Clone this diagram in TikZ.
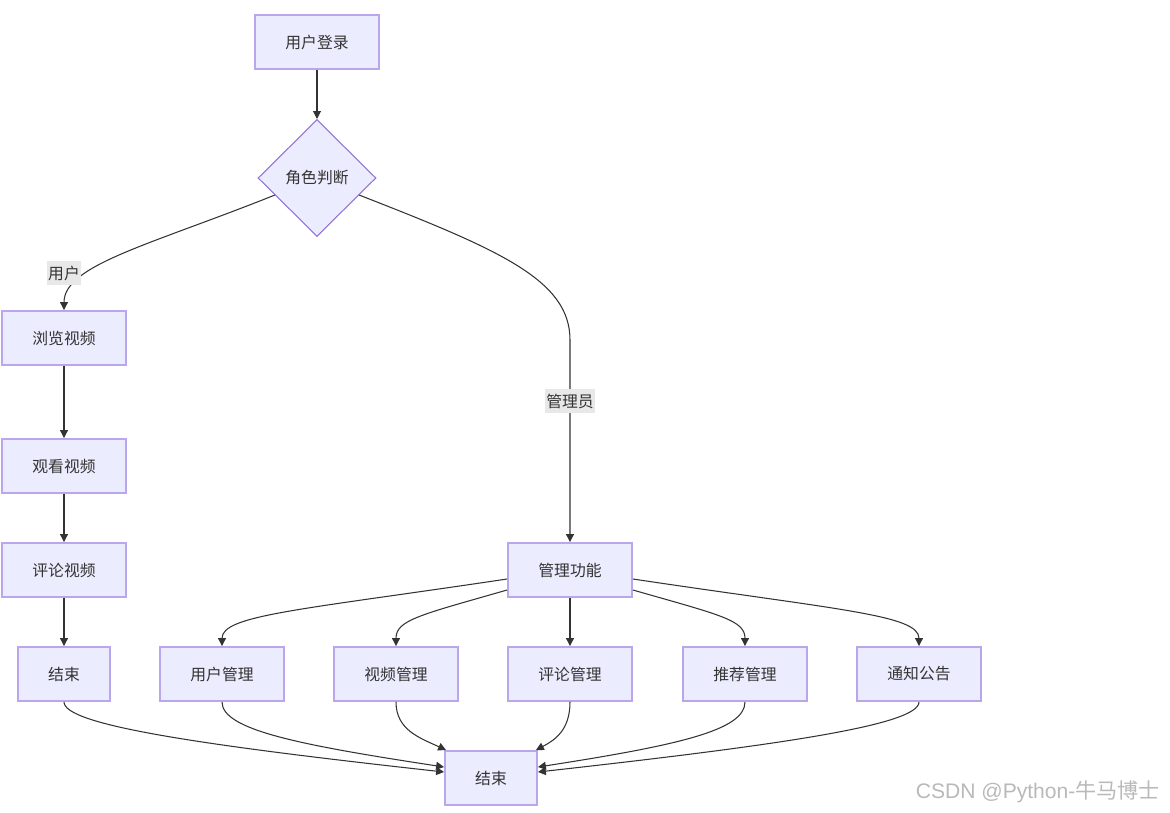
\documentclass[tikz,border=0pt]{standalone}
\usepackage{fontspec}
\setmainfont{Noto Sans CJK SC}
\newfontfamily\latinfont{Liberation Sans}
\usetikzlibrary{shapes.geometric,arrows.meta,calc}
\definecolor{boxfill}{HTML}{ECECFF}
\definecolor{boxline}{HTML}{B9A6EC}
\definecolor{diamline}{HTML}{9370DB}
\definecolor{edgecol}{HTML}{333333}
\definecolor{labelbg}{HTML}{E8E8E8}

\begin{document}
\begin{tikzpicture}[x=0.02cm,y=-0.02cm,
    every node/.style={font=\fontsize{9}{11}\selectfont,text=edgecol},
    box/.style={draw=boxline,fill=boxfill,line width=1.1pt,minimum width=2.48cm,minimum height=1.08cm,inner sep=0pt},
    endbox/.style={box,minimum width=1.84cm},
    judgebox/.style={diamond,aspect=1,draw=diamline,fill=boxfill,line width=0.6pt,minimum width=2.36cm,minimum height=2.34cm,inner sep=0pt},
    elabel/.style={fill=labelbg,inner xsep=0.5pt,inner ysep=2.5pt},
    flow/.style={draw=edgecol,line width=0.6pt,-{Triangle[length=4.5pt,width=4.5pt]}}
    ]
    \useasboundingbox (0,0) rectangle (1170,812);

    % Login and role check
    \node[box] (login) at (317,42) {用户登录};
    \node[judgebox] (judge) at (317,178) {角色判断};

    % User branch
    \node[box] (browse) at (64,338) {浏览视频};
    \node[box] (watch) at (64,466) {观看视频};
    \node[box] (comment) at (64,570) {评论视频};
    \node[endbox] (userend) at (64,674) {结束};

    % Admin branch
    \node[box] (admin) at (570,570) {管理功能};
    \node[box] (usermgr) at (222,674) {用户管理};
    \node[box] (videomgr) at (396,674) {视频管理};
    \node[box] (commentmgr) at (570,674) {评论管理};
    \node[box] (recmgr) at (745,674) {推荐管理};
    \node[box] (notice) at (919,674) {通知公告};
    \node[endbox] (finish) at (491,778) {结束};

    % Connectors
    \draw[flow] (login) -- (judge);
    \draw[flow] (judge.202) .. controls (150,245) and (64,265) .. (browse.north);
    \draw[flow] (judge.-22) .. controls (500,250) and (570,280) .. (570,340) -- (admin.north);
    \draw[flow] (browse) -- (watch);
    \draw[flow] (watch) -- (comment);
    \draw[flow] (comment) -- (userend);

    \draw[flow] ($(admin.west)+(0,9)$) .. controls (300,610) and (222,615) .. (usermgr.north);
    \draw[flow] ($(admin.west)+(0,20)$) .. controls (420,615) and (396,620) .. (videomgr.north);
    \draw[flow] (admin) -- (commentmgr);
    \draw[flow] ($(admin.east)+(0,20)$) .. controls (720,615) and (745,620) .. (recmgr.north);
    \draw[flow] ($(admin.east)+(0,9)$) .. controls (840,610) and (919,615) .. (notice.north);

    \draw[flow] (userend.south) .. controls (64,725) and (200,745) .. ($(finish.west)+(0,-6)$);
    \draw[flow] (usermgr.south) .. controls (222,730) and (300,745) .. ($(finish.west)+(0,-11)$);
    \draw[flow] (videomgr.south) .. controls (396,730) and (420,738) .. ($(finish.north west)+(2,0)$);
    \draw[flow] (commentmgr.south) .. controls (570,730) and (555,740) .. ($(finish.north east)+(-2,0)$);
    \draw[flow] (recmgr.south) .. controls (745,730) and (680,745) .. ($(finish.east)+(0,-11)$);
    \draw[flow] (notice.south) .. controls (919,725) and (780,745) .. ($(finish.east)+(0,-6)$);

    % Edge labels
    \node[elabel] (userlabel) at (64,273) {用户};
    \node[elabel] (adminlabel) at (570,401) {管理员};

    \node[text=gray!55,font=\fontsize{12}{14}\selectfont,anchor=east] (mark) at (1166,792) {{\latinfont CSDN @Python-}牛马博士};
\end{tikzpicture}
\end{document}
